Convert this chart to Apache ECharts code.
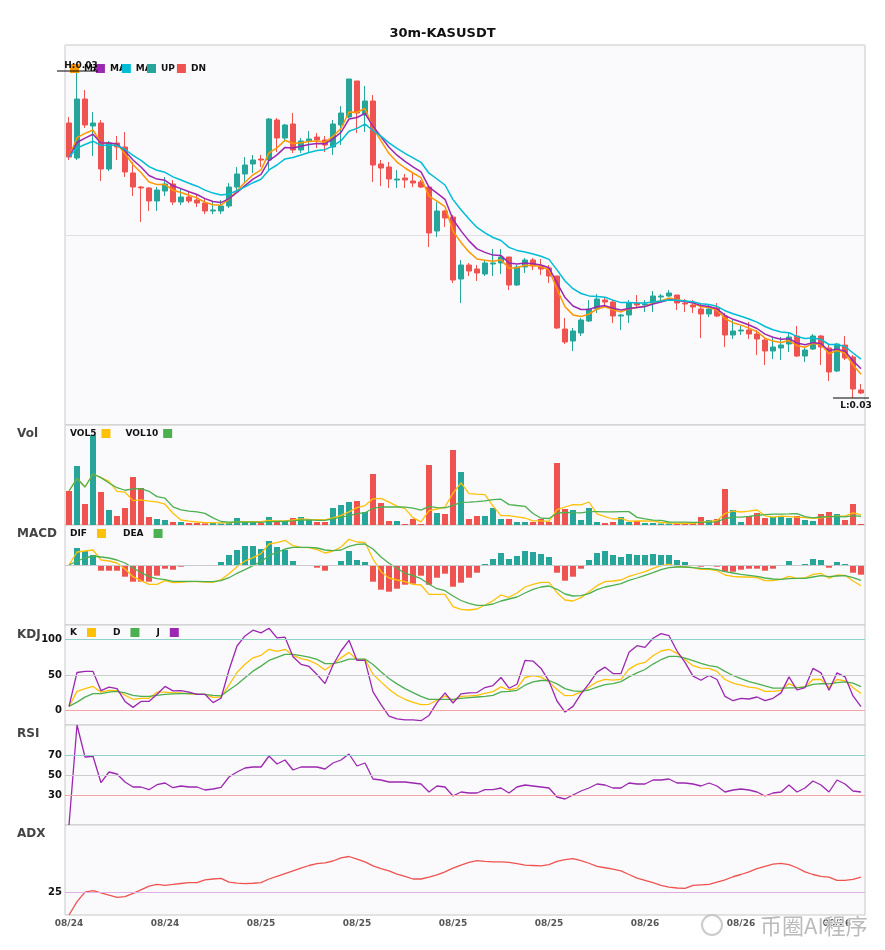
<!DOCTYPE html>
<html>
<head>
<meta charset="utf-8">
<title>30m-KASUSDT</title>
<script src="https://cdn.jsdelivr.net/npm/echarts@6/dist/echarts.min.js"></script>
<style>
    html, body { margin: 0; padding: 0; background: #fff; }
    #main { width: 885px; height: 950px; }
</style>
</head>
<body>
<div id="main"></div>
<script>
// prices are kept in 1e-5 USDT (3118 -> 0.03118)
const opens = [
    3152,3117,3176,3149,3152,3106,3132,3128,3102,3088,
    3087,3074,3084,3091,3073,3078,3075,3072,3064,3064,
    3069,3088,3101,3111,3116,3115,3155,3137,3151,3125,
    3134,3138,3135,3128,3150,3158,3194,3160,3174,3111,
    3108,3095,3097,3094,3093,3088,3044,3064,3058,2996,
    3010,3006,3001,3011,3012,3018,2990,3008,3015,3009,
    3007,2999,2946,2934,2942,2954,2966,2975,2973,2959,
    2960,2972,2970,2972,2978,2979,2980,2972,2970,2966,
    2961,2967,2959,2940,2944,2945,2941,2935,2924,2927,
    2931,2939,2919,2926,2939,2927,2904,2930,2918,2885
];
const closes = [
    3118,3176,3150,3152,3106,3132,3128,3103,3088,3087,
    3074,3085,3091,3073,3078,3074,3072,3064,3065,3069,
    3088,3101,3110,3115,3115,3156,3137,3150,3125,3134,
    3136,3135,3130,3151,3162,3196,3162,3174,3110,3107,
    3096,3096,3095,3092,3088,3042,3064,3057,2995,3010,
    3004,3002,3012,3012,3018,2990,3008,3015,3009,3006,
    2999,2947,2933,2944,2955,2966,2976,2973,2959,2960,
    2972,2970,2971,2979,2979,2982,2972,2971,2968,2961,
    2966,2959,2940,2944,2945,2941,2936,2924,2928,2930,
    2938,2919,2925,2939,2928,2903,2931,2917,2886,2882
];
const lows = [
    3115,3115,3147,3119,3094,3104,3115,3098,3079,3053,
    3064,3064,3079,3070,3070,3072,3068,3061,3061,3061,
    3067,3083,3092,3102,3108,3105,3123,3133,3122,3122,
    3123,3127,3123,3120,3130,3157,3142,3143,3093,3089,
    3087,3087,3087,3088,3087,3028,3038,3048,2992,2972,
    2999,2994,2999,2999,3001,2985,2989,3002,3005,3000,
    2992,2946,2931,2924,2939,2953,2962,2968,2952,2945,
    2952,2967,2963,2963,2973,2978,2965,2963,2962,2937,
    2958,2958,2928,2936,2940,2936,2920,2910,2916,2915,
    2923,2918,2913,2925,2910,2894,2903,2915,2877,2881
];
const highs = [
    3158,3204,3185,3163,3155,3134,3139,3143,3113,3089,
    3088,3088,3098,3095,3087,3083,3080,3076,3073,3075,
    3092,3108,3118,3120,3120,3157,3157,3151,3162,3137,
    3144,3142,3139,3155,3169,3196,3194,3189,3180,3115,
    3113,3105,3101,3103,3095,3090,3073,3065,3060,3015,
    3012,3010,3015,3026,3026,3018,3010,3017,3017,3016,
    3010,2999,2957,2947,2957,2975,2981,2978,2975,2961,
    2975,2980,2975,2984,2981,2985,2980,2976,2975,2972,
    2971,2972,2962,2955,2949,2953,2945,2937,2937,2938,
    2942,2949,2928,2941,2940,2930,2932,2939,2920,2891
];
const ma5 = [
    3118.0,3137.3,3141.6,3145.0,3132.0,3132.0,3130.7,3121.5,3110.3,3102.5,
    3093.0,3090.4,3090.6,3084.7,3082.5,3079.7,3077.1,3072.7,3070.2,3069.8,
    3075.9,3084.2,3092.8,3100.2,3105.1,3122.1,3127.1,3134.7,3131.5,3132.3,
    3133.5,3134.0,3132.7,3138.8,3146.5,3163.0,3162.7,3166.5,3147.6,3134.1,
    3121.4,3112.9,3107.0,3102.0,3097.3,3078.9,3073.9,3068.3,3043.9,3032.6,
    3023.1,3016.0,3014.7,3013.8,3015.2,3006.8,3007.2,3009.8,3009.5,3008.4,
    3005.2,2985.8,2968.2,2960.1,2958.4,2961.0,2966.0,2968.3,2965.2,2963.1,
    2966.1,2967.4,2968.6,2972.1,2974.4,2976.9,2975.3,2973.9,2971.9,2968.3,
    2967.5,2964.7,2956.5,2952.3,2949.9,2946.9,2943.3,2936.9,2933.9,2932.6,
    2934.4,2929.3,2927.8,2931.6,2930.4,2921.3,2924.5,2922.0,2910.0,2900.7
];
const ma10 = [
    3118.0,3132.5,3136.9,3140.7,3132.0,3132.0,3131.0,3124.0,3115.0,3108.0,
    3099.5,3095.9,3094.7,3089.2,3086.4,3083.3,3080.5,3076.4,3073.5,3072.4,
    3076.3,3082.5,3089.4,3095.8,3100.6,3114.4,3120.1,3127.6,3126.9,3128.7,
    3130.5,3131.6,3131.2,3136.2,3142.6,3156.0,3157.5,3161.6,3148.7,3138.3,
    3127.7,3119.8,3113.6,3108.2,3103.1,3087.9,3081.9,3075.7,3055.5,3044.1,
    3034.1,3026.1,3022.6,3019.9,3019.4,3012.1,3011.1,3012.0,3011.3,3010.0,
    3007.2,2992.2,2977.4,2969.0,2965.5,2965.6,2968.2,2969.4,2966.8,2964.9,
    2966.6,2967.5,2968.4,2971.0,2973.0,2975.3,2974.4,2973.6,2972.2,2969.4,
    2968.5,2966.2,2959.6,2955.7,2953.0,2950.0,2946.5,2940.9,2937.7,2935.8,
    2936.3,2932.0,2930.2,2932.4,2931.3,2924.2,2925.9,2923.7,2914.3,2906.2
];
const ma20 = [
    3118.0,3126.9,3130.5,3133.8,3129.5,3129.9,3129.6,3125.5,3119.7,3114.7,
    3108.4,3104.8,3102.7,3098.1,3095.0,3091.8,3088.8,3084.9,3081.9,3079.9,
    3081.1,3084.2,3088.2,3092.3,3095.8,3105.1,3110.0,3116.1,3117.5,3120.0,
    3122.5,3124.4,3125.3,3129.2,3134.3,3143.8,3146.6,3150.8,3144.5,3138.8,
    3132.2,3126.6,3121.7,3117.2,3112.7,3101.8,3096.0,3090.0,3075.4,3065.3,
    3055.9,3047.6,3042.1,3037.5,3034.5,3027.6,3024.6,3023.1,3021.0,3018.7,
    3015.6,3005.1,2994.0,2986.3,2981.5,2979.1,2978.6,2977.8,2974.9,2972.4,
    2972.4,2972.0,2971.9,2973.0,2973.9,2975.1,2974.7,2974.1,2973.2,2971.3,
    2970.5,2968.7,2964.3,2961.2,2958.7,2956.0,2952.9,2948.5,2945.3,2943.0,
    2942.2,2938.6,2936.5,2936.9,2935.5,2930.5,2930.6,2928.5,2922.0,2915.8
];
const volumes = [
    34,59,21,90,33,15,9,17,48,37,
    8,6,5,3,3,2,2,1.7,3,1.5,
    2,7,3,3,2,8,4,4,7,8,
    5,3,3,17,20,23,24,13,51,22,
    4,4,1,6,1,60,12,11,75,53,
    6,9,9,17,6,6,3,3,3,6,
    3,62,16,15,5,17,3,2,3,8,
    3,4,2,2,1.5,1.5,1.5,1.5,2,8,
    5,6,36,15,3,9,12,7,8,8,
    7,9,5,4,11,13,11,5,21,1
];
const vol5 = [
    34,46.5,38,51,47.4,43.6,33.6,32.8,24.4,25.2,
    23.8,23.2,20.8,11.8,5,3.8,3,2.34,2.34,2.04,
    2.04,3.04,3.3,3.3,3.4,4.6,4,4.2,5,6.2,
    5.6,5.4,5.2,7.2,9.6,13.2,17.4,19.4,26.2,26.6,
    22.8,18.8,16.4,7.4,3.2,14.4,16,18,31.8,42.2,
    31.4,30.8,30.4,18.8,9.4,9.4,8.2,7,4.2,4.2,
    3.6,15.4,18,20.4,20.2,23,11.2,8.4,6,6.6,
    3.8,4,4,3.8,2.5,2.2,1.7,1.6,1.6,2.9,
    3.6,4.5,11.4,14,13,13.8,15,9.2,7.8,8.8,
    8.4,7.8,7.4,6.6,7.2,8.4,8.8,8.8,12.2,10.2
];
const vol10 = [
    34,46.5,38,51,47.4,42,37.3,34.75,36.2,36.3,
    33.7,28.4,26.8,18.1,15.1,13.8,13.1,11.57,7.07,3.52,
    2.92,3.02,2.82,2.82,2.72,3.32,3.52,3.75,4.15,4.8,
    5.1,4.7,4.7,6.1,7.9,9.4,11.4,12.3,16.7,18.1,
    18,18.1,17.9,16.8,14.9,18.6,17.4,17.2,19.6,22.7,
    22.9,23.4,24.2,25.3,25.8,20.4,19.5,18.7,11.5,6.8,
    6.5,11.8,12.5,12.3,12.2,13.3,13.3,13.2,13.2,13.4,
    13.4,7.6,6.2,4.9,4.55,3,2.85,2.8,2.7,2.7,
    2.9,3.1,6.5,7.8,7.95,8.7,9.75,10.3,10.9,10.9,
    11.1,11.4,8.3,7.2,8,8.4,8.3,8.1,9.4,8.7
];
// MACD in 1e-6 USDT
const macdHist = [
    0,17,14,10,-5.7,-5.7,-5.7,-11.7,-16.7,-16.7,
    -16.7,-10.7,-3.7,-4.7,-1.7,-0.7,0,-0.7,0,3,
    10,15,19,19,16,24,18,15,4,0,
    -0.7,-2.7,-5.7,-0.7,4,14,5,3,-16.7,-24.7,
    -26.7,-23.7,-19.7,-18.7,-10.7,-19.7,-12.7,-8.7,-21.7,-17.7,
    -12.7,-7.7,1,6,12,6,9,14,13,11,
    8,-7.7,-15.7,-11.7,-3.7,5,12,14,10,8,
    11,10,10,11,10,10,5,3,0,-1.7,
    -0.7,-1.7,-6.7,-6.7,-4.7,-3.7,-3.7,-5.7,-3.7,-0.7,
    4,0,1,6,5,-2.7,3,1,-7.7,-9.7
];
const dif = [
    0,13,14,15,5,4,2,-4,-11.7,-15.7,
    -19.3,-19.3,-15.7,-17.7,-17.3,-16.7,-16.7,-17,-17.3,-14.7,
    -8.7,-1.7,4,7.3,11.3,21,22.3,24.7,19.3,17.7,
    17.3,15.3,12,14,18,25.7,23,22.7,6,-6.7,
    -13,-15,-16.7,-19.3,-20,-29.3,-29.3,-29.3,-41.7,-44.3,
    -45,-44,-40,-35.7,-30,-32.3,-28,-22,-19.3,-17.3,
    -17.3,-27.7,-35,-36,-32.7,-26.7,-20.7,-16.7,-16,-15,
    -11.3,-9,-6.7,-3.3,-0.7,0.7,-1.3,-2,-2.7,-4.3,
    -4.3,-5.7,-10,-11.3,-12,-12,-12.7,-15.7,-15.7,-14.3,
    -11.3,-13.3,-13,-9.3,-8.3,-13.3,-10,-10.3,-16,-20.7
];
const dea = [
    0,4,7,9,8,7,5,2,-2.7,-7.7,
    -11.7,-13.7,-14.7,-16.3,-16.3,-16.3,-16.3,-16.7,-16.7,-15.7,
    -12.7,-8.3,-4.7,-0.7,3.3,9.3,12.7,16,17.7,17.7,
    17.7,17,15,14.3,15,18.7,20.7,21,16,8,
    1.7,-3.3,-8.3,-10.7,-13.7,-19.3,-23.7,-25.7,-31,-35.5,
    -38.3,-40.3,-40.3,-39,-36,-34,-32,-28,-24.3,-22,
    -21,-24.3,-29,-31,-30.7,-28.7,-24.7,-22,-20.3,-18.7,
    -15.3,-13,-10.3,-7.7,-4.7,-2.7,-2,-2,-2.7,-3.3,
    -3.7,-4.7,-6.7,-8,-9.3,-10.3,-11.3,-13,-14,-14.3,
    -13.7,-13.3,-13.3,-12,-10.7,-11.7,-11,-10.7,-12.7,-15.3
];
const kLine = [
    6,27,31,34,26,28.6,28,21.6,16,17.4,
    17.4,26,26,25,25,23.5,23,23,18.8,19,
    35.7,53.5,65,74,77.5,86,83,86,77.5,73,
    70.4,65,57,65,74,81.7,71.4,71.8,51,40.4,
    30,21.6,16,11.7,8.5,9,14.6,20.7,14.6,20,
    20.7,21.6,24.4,26.8,33.3,29,31.5,46.5,49.3,47,
    40.4,29.6,21,21.6,26.3,33.3,40.4,44,42.7,44,
    58.2,64.8,67.6,77,83.6,86,80.3,71.8,63,59.6,
    59.2,55,43.7,38.5,35.7,32.9,31.5,27.2,27.2,28.6,
    38,32.4,33.3,43.7,43.7,32.4,43.7,41.8,32.4,24
];
const dLine = [
    6,12,19,24,24,26,27,25,21.6,20,
    20,21.6,23,23.5,24,24.4,23.5,23,21.6,20.7,
    29,36.6,46,55.4,62.4,70.4,74.6,79,79,77,
    75,71.8,66,66,68.5,72.3,72.3,72.3,64.8,54.5,
    45,37.6,31,25.4,20,16,16,16,16,17.4,
    18.3,19.2,20,21.6,26.3,27.2,28.6,35.7,40.4,42.3,
    42.3,37.6,31,27.7,27.2,29,32.9,36.6,38,40.8,
    47.4,53,57.7,65.3,71.4,76,76,73.7,70,66.2,
    63,61.5,55,49.3,45,40.8,38,34.7,31.5,31.5,
    32,32,33.3,37,38,37.6,39.4,40.4,38.5,33.8
];
const jLine = [
    6,53.5,55,55,28,33,31,13,4.7,13,
    13,23,34,27.7,28,26,23,23,11.3,17.4,
    57,90.6,104.7,112.7,109,115.5,102,103,75.6,65,
    62,50.7,38,64,83.6,98.6,70.4,70.4,26.3,8.5,
    -7.5,-11.3,-12.7,-12.7,-14,-6.6,11.3,25,10.8,23.5,
    25,25.4,32.4,35.2,46.5,31.5,37,70.4,69.5,59.2,
    41.3,13.6,-1.9,6.1,23.5,38,54,61,52,52,
    81.7,91,88.7,101.4,108,105,83.6,67.6,48.4,42.7,
    49.3,43.7,20,14,17.4,16.4,19.2,14,17.4,25,
    47.4,29,32.4,59.2,53,28.6,53,47.4,20.7,5.6
];
const rsi = [
    0,100,68,68.7,42.3,53,51,43,38,38,
    35.3,40.3,42,37.3,39,38,38,35,36,37.7,
    48,53,57,58,58,69,61,65,55,58,
    58,58,56,62,65,71,59,62,46,45,
    43,43,43,42,41,33,39,38,29,33,
    32,32,35.3,35.3,37,32,38,40,39,38,
    37,28,26,30,34,37,41,40,37,37,
    42,41,41,45,45,46,42,42,41,39,
    42,39,33,35,36,35,33,29,32,33,
    40,33,37,44,40,33,45,41,34,33
];
const adx = [
    0,14.8,25.5,27,24.5,22,19.6,20.5,24,28,
    32,34,33,34,35,36,36,39,40,40.7,
    36.5,35.5,34.8,35.3,36,40,43,46,49,52,
    55,57,58,60,63.5,65,62,59,54.5,51.5,
    49,45.5,43,40,40,42,44.5,48,52,55.5,
    58.5,60.4,59.5,59,59,58.5,57,55.5,55,54.5,
    56,59.5,61.5,62.6,60.5,57.5,54,52.5,51,49,
    45,41,38.5,36,33,31,30,29.6,33,33.5,
    34,36.5,39,42.5,45,48,51.5,54,56.5,57.4,
    56,52.5,48,45,43,42,38.5,38.5,39.5,42
];

const UP = '#26a69a';
const DN = '#ef5350';
const FONT = 'DejaVu Sans';

// 30 分钟K线时间, 08/24 16:00 起
const times = [];
for (let i = 0; i < closes.length; i++) {
    const m = 16 * 60 + i * 30;
    const day = 24 + Math.floor(m / 1440);
    const hh = String(Math.floor((m % 1440) / 60)).padStart(2, '0');
    const mm = String(m % 60).padStart(2, '0');
    times.push(`08/${day} ${hh}:${mm}`);
}

const fmtPrice = v => (v / 1e5).toFixed(2);

function lineSeries(name, data, color, axis, width) {
    return {
        name, type: 'line', data,
        xAxisIndex: axis, yAxisIndex: axis,
        symbol: 'none', showSymbol: false,
        lineStyle: { color, width: width || 1.3 },
        itemStyle: { color },
        z: 3
    };
}

function refLines(values) {
    return {
        silent: true,
        symbol: ['none', 'none'],
        label: { show: false },
        data: values.map(v => ({ yAxis: v[0], lineStyle: { color: v[1], width: 1, type: 'solid' } }))
    };
}

const legendText = pad => ({
    fontSize: 9, fontWeight: 'bold', color: '#111', fontFamily: FONT, padding: [0, pad, 0, 0]
});

// 副图图例: 文字在前, 色块在后
function panelLegend(names, top, gap, pad) {
    return {
        data: names, left: 70, top, padding: 0, align: 'right', icon: 'rect',
        itemWidth: 9, itemHeight: 9, itemGap: gap, selectedMode: false,
        textStyle: legendText(pad)
    };
}

function getOption() {
    const gridTops = [45, 425, 525, 625, 725, 825];
    const gridHeights = [380, 100, 100, 100, 100, 90];
    const grids = gridTops.map((t, i) => ({
        left: 65, width: 800, top: t, height: gridHeights[i],
        show: true, backgroundColor: '#fafafc', borderColor: '#c8c8c8', borderWidth: 1
    }));

    const xAxes = grids.map((g, i) => ({
        type: 'category', gridIndex: i, data: times, boundaryGap: true,
        axisLine: { show: false }, axisTick: { show: false }, splitLine: { show: false },
        axisLabel: i === 5 ? {
            interval: 11, margin: 4, fontSize: 9, fontWeight: 'bold', color: '#555', fontFamily: FONT,
            formatter: v => v.slice(0, 5)
        } : { show: false }
    }));

    const yLabel = vals => ({
        customValues: vals, margin: 3, fontSize: 10, fontWeight: 'bold', color: '#111', fontFamily: FONT
    });
    const yAxes = [
        { gridIndex: 0, min: 2850, max: 3230, interval: 190, axisLabel: { show: false },
          splitLine: { show: true, lineStyle: { color: '#e0e0e0' } } },
        { gridIndex: 1, min: 0, max: 100, axisLabel: { show: false }, splitLine: { show: false } },
        { gridIndex: 2, min: -60, max: 40, axisLabel: { show: false }, splitLine: { show: false } },
        { gridIndex: 3, min: -20, max: 120, axisLabel: yLabel([0, 50, 100]), splitLine: { show: false } },
        { gridIndex: 4, min: 0, max: 100, axisLabel: yLabel([30, 50, 70]), splitLine: { show: false } },
        { gridIndex: 5, min: 0, max: 100, axisLabel: yLabel([25]), splitLine: { show: false } }
    ].map(a => Object.assign({ type: 'value', axisLine: { show: false }, axisTick: { show: false } }, a));

    const candles = opens.map((o, i) => [o, closes[i], lows[i], highs[i]]);
    const volBars = volumes.map((v, i) => ({ value: v, itemStyle: { color: closes[i] >= opens[i] ? UP : DN } }));
    const histBars = macdHist.map(v => ({ value: v, itemStyle: { color: v >= 0 ? UP : DN } }));

    const panelTitle = (text, top) => ({
        text, left: 17, top, padding: 0,
        textStyle: { fontSize: 12, fontWeight: 'bold', color: '#444', fontFamily: FONT }
    });

    return {
        animation: false,
        backgroundColor: '#fff',
        title: [
            { text: '30m-KASUSDT', left: 'center', top: 27, padding: 0,
              textStyle: { fontSize: 13, fontWeight: 'bold', color: '#111', fontFamily: FONT } },
            panelTitle('Vol', 428),
            panelTitle('MACD', 528),
            panelTitle('KDJ', 629),
            panelTitle('RSI', 728),
            panelTitle('ADX', 828)
        ],
        legend: [
            {
                data: ['MA5', 'MA10', 'MA20'], left: 70, top: 64, padding: 0, icon: 'rect',
                itemWidth: 9, itemHeight: 9, itemGap: -4, selectedMode: false,
                formatter: () => 'MA',
                textStyle: legendText(0)
            },
            {
                data: ['UP', 'DN'], left: 147, top: 64, padding: 0, icon: 'rect',
                itemWidth: 9, itemHeight: 9, itemGap: 2, selectedMode: false,
                textStyle: legendText(0)
            },
            panelLegend(['VOL5', 'VOL10'], 429, 15, 0),
            panelLegend(['DIF', 'DEA'], 529, 17, 5),
            panelLegend(['K', 'D', 'J'], 628, 17, 5)
        ],
        grid: grids,
        xAxis: xAxes,
        yAxis: yAxes,
        series: [
            {
                name: 'KASUSDT', type: 'candlestick', data: candles,
                xAxisIndex: 0, yAxisIndex: 0, barWidth: 6,
                itemStyle: { color: UP, color0: DN, borderColor: UP, borderColor0: DN, borderWidth: 1 }
            },
            lineSeries('MA5', ma5, '#ff9800', 0, 1.5),
            lineSeries('MA10', ma10, '#9c27b0', 0, 1.5),
            lineSeries('MA20', ma20, '#00bcd4', 0, 1.5),
            { name: 'UP', type: 'bar', data: [], xAxisIndex: 0, yAxisIndex: 0, itemStyle: { color: UP } },
            { name: 'DN', type: 'bar', data: [], xAxisIndex: 0, yAxisIndex: 0, itemStyle: { color: DN } },

            { name: 'Volume', type: 'bar', data: volBars, xAxisIndex: 1, yAxisIndex: 1, barWidth: 6 },
            lineSeries('VOL5', vol5, '#ffc107', 1),
            lineSeries('VOL10', vol10, '#4caf50', 1),

            { name: 'MACD', type: 'bar', data: histBars, xAxisIndex: 2, yAxisIndex: 2, barWidth: 6,
              markLine: refLines([[0, '#cccccc']]) },
            lineSeries('DIF', dif, '#ffc107', 2),
            lineSeries('DEA', dea, '#4caf50', 2),

            Object.assign(lineSeries('K', kLine, '#ffc107', 3), {
                markLine: refLines([[100, '#8fd3c8'], [50, '#cccccc'], [0, '#f4a6a6']])
            }),
            lineSeries('D', dLine, '#4caf50', 3),
            lineSeries('J', jLine, '#9c27b0', 3),

            Object.assign(lineSeries('RSI', rsi, '#9c27b0', 4), {
                markLine: refLines([[70, '#8fd3c8'], [50, '#cccccc'], [30, '#f4a6a6']])
            }),

            Object.assign(lineSeries('ADX', adx, '#ef5350', 5), {
                markLine: refLines([[25, '#dcb0e4']])
            })
        ]
    };
}

// 最高/最低价标注 + 水印
function drawExtras(chart) {
    let hi = 0, lo = 0;
    highs.forEach((v, i) => { if (v > highs[hi]) hi = i; });
    lows.forEach((v, i) => { if (v < lows[lo]) lo = i; });
    const pH = chart.convertToPixel({ seriesIndex: 0 }, [hi, highs[hi]]);
    const pL = chart.convertToPixel({ seriesIndex: 0 }, [lo, lows[lo]]);
    const markFont = `bold 9px "${FONT}"`;

    chart.setOption({
        graphic: [
            { type: 'line', shape: { x1: pH[0] - 20, y1: pH[1], x2: pH[0] + 21, y2: pH[1] },
              style: { stroke: '#000', lineWidth: 1 }, z: 10 },
            { type: 'text', x: pH[0] + 4, y: pH[1] - 1, z: 10,
              style: { text: 'H:' + fmtPrice(highs[hi]), font: markFont, fill: '#111',
                       textAlign: 'center', textVerticalAlign: 'bottom' } },
            { type: 'line', shape: { x1: pL[0] - 20, y1: pL[1], x2: pL[0] + 16, y2: pL[1] },
              style: { stroke: '#000', lineWidth: 1 }, z: 10 },
            { type: 'text', x: pL[0] + 3, y: pL[1] + 3, z: 10,
              style: { text: 'L:' + fmtPrice(lows[lo]), font: markFont, fill: '#111',
                       textAlign: 'center', textVerticalAlign: 'top' } },
            { type: 'circle', shape: { cx: 712, cy: 925, r: 10 }, z: 20,
              style: { fill: 'none', stroke: 'rgba(190,190,190,0.8)', lineWidth: 2 } },
            { type: 'text', x: 760, y: 926, z: 20,
              style: { text: '币圈AI程序', font: '22px "Noto Sans CJK SC"', fill: 'rgba(175,175,175,0.85)',
                       stroke: '#fff', lineWidth: 1, textVerticalAlign: 'middle' } }
        ]
    });
}

const chart = echarts.init(document.getElementById('main'));
chart.setOption(getOption());
drawExtras(chart);
</script>
</body>
</html>
